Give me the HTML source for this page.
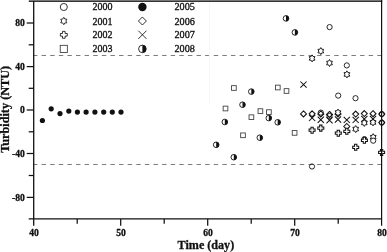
<!DOCTYPE html><html><head><meta charset="utf-8"><title>Turbidity</title><style>html,body{margin:0;padding:0;background:#fff}svg{display:block}text{font-family:"Liberation Serif","Times New Roman",serif;fill:#111;stroke:#111;stroke-width:0.3}</style></head><body>
<svg width="387" height="252" viewBox="0 0 387 252">
<rect width="387" height="252" fill="#fff"/>
<line x1="33" y1="55.50" x2="381.5" y2="55.50" stroke="#7c7c7c" stroke-width="1" stroke-dasharray="4.4 4.2075"/>
<line x1="33" y1="164.50" x2="381.5" y2="164.50" stroke="#7c7c7c" stroke-width="1" stroke-dasharray="4.4 4.2075"/>
<rect x="231.55" y="85.65" width="4.70" height="4.70" fill="#fff" stroke="#444" stroke-width="0.9"/>
<rect x="223.15" y="106.15" width="4.70" height="4.70" fill="#fff" stroke="#444" stroke-width="0.9"/>
<rect x="275.45" y="85.15" width="4.70" height="4.70" fill="#fff" stroke="#444" stroke-width="0.9"/>
<rect x="284.15" y="88.65" width="4.70" height="4.70" fill="#fff" stroke="#444" stroke-width="0.9"/>
<rect x="258.05" y="108.75" width="4.70" height="4.70" fill="#fff" stroke="#444" stroke-width="0.9"/>
<rect x="266.55" y="109.75" width="4.70" height="4.70" fill="#fff" stroke="#444" stroke-width="0.9"/>
<rect x="249.05" y="114.85" width="4.70" height="4.70" fill="#fff" stroke="#444" stroke-width="0.9"/>
<rect x="240.65" y="132.95" width="4.70" height="4.70" fill="#fff" stroke="#444" stroke-width="0.9"/>
<rect x="292.25" y="130.55" width="4.70" height="4.70" fill="#fff" stroke="#444" stroke-width="0.9"/>
<path d="M303.50 110.90L306.50 113.90L303.50 116.90L300.50 113.90Z" fill="none" stroke="#111" stroke-width="1.05"/>
<path d="M312.10 110.80L315.10 113.80L312.10 116.80L309.10 113.80Z" fill="none" stroke="#111" stroke-width="1.05"/>
<path d="M320.80 110.90L323.80 113.90L320.80 116.90L317.80 113.90Z" fill="none" stroke="#111" stroke-width="1.05"/>
<path d="M329.50 111.40L332.50 114.40L329.50 117.40L326.50 114.40Z" fill="none" stroke="#111" stroke-width="1.05"/>
<path d="M338.00 111.00L341.00 114.00L338.00 117.00L335.00 114.00Z" fill="none" stroke="#111" stroke-width="1.05"/>
<path d="M346.80 123.50L349.80 126.50L346.80 129.50L343.80 126.50Z" fill="none" stroke="#111" stroke-width="1.05"/>
<path d="M355.70 111.10L358.70 114.10L355.70 117.10L352.70 114.10Z" fill="none" stroke="#111" stroke-width="1.05"/>
<path d="M364.30 110.60L367.30 113.60L364.30 116.60L361.30 113.60Z" fill="none" stroke="#111" stroke-width="1.05"/>
<path d="M373.00 110.70L376.00 113.70L373.00 116.70L370.00 113.70Z" fill="none" stroke="#111" stroke-width="1.05"/>
<path d="M381.80 111.10L384.80 114.10L381.80 117.10L378.80 114.10Z" fill="none" stroke="#111" stroke-width="1.05"/>
<path d="M381.80 119.60L384.80 122.60L381.80 125.60L378.80 122.60Z" fill="none" stroke="#111" stroke-width="1.05"/>
<path d="M300.40 81.50L306.60 87.70M300.40 87.70L306.60 81.50" fill="none" stroke="#111" stroke-width="1.05"/>
<path d="M309.00 114.80L315.20 121.00M309.00 121.00L315.20 114.80" fill="none" stroke="#111" stroke-width="1.05"/>
<path d="M317.70 116.70L323.90 122.90M317.70 122.90L323.90 116.70" fill="none" stroke="#111" stroke-width="1.05"/>
<path d="M326.40 117.10L332.60 123.30M326.40 123.30L332.60 117.10" fill="none" stroke="#111" stroke-width="1.05"/>
<path d="M334.90 116.40L341.10 122.60M334.90 122.60L341.10 116.40" fill="none" stroke="#111" stroke-width="1.05"/>
<path d="M343.70 116.80L349.90 123.00M343.70 123.00L349.90 116.80" fill="none" stroke="#111" stroke-width="1.05"/>
<path d="M352.60 116.80L358.80 123.00M352.60 123.00L358.80 116.80" fill="none" stroke="#111" stroke-width="1.05"/>
<path d="M361.20 115.90L367.40 122.10M361.20 122.10L367.40 115.90" fill="none" stroke="#111" stroke-width="1.05"/>
<path d="M369.90 115.90L376.10 122.10M369.90 122.10L376.10 115.90" fill="none" stroke="#111" stroke-width="1.05"/>
<circle cx="364.40" cy="139.20" r="2.60" fill="none" stroke="#111" stroke-width="0.9"/>
<path d="M310.96 127.20L313.24 127.20L313.24 129.06L315.10 129.06L315.10 131.34L313.24 131.34L313.24 133.20L310.96 133.20L310.96 131.34L309.10 131.34L309.10 129.06L310.96 129.06Z" fill="#fff" stroke="#111" stroke-width="1.05"/>
<path d="M319.66 125.10L321.94 125.10L321.94 126.96L323.80 126.96L323.80 129.24L321.94 129.24L321.94 131.10L319.66 131.10L319.66 129.24L317.80 129.24L317.80 126.96L319.66 126.96Z" fill="#fff" stroke="#111" stroke-width="1.05"/>
<path d="M337.16 130.20L339.44 130.20L339.44 132.06L341.30 132.06L341.30 134.34L339.44 134.34L339.44 136.20L337.16 136.20L337.16 134.34L335.30 134.34L335.30 132.06L337.16 132.06Z" fill="#fff" stroke="#111" stroke-width="1.05"/>
<path d="M345.66 128.30L347.94 128.30L347.94 130.16L349.80 130.16L349.80 132.44L347.94 132.44L347.94 134.30L345.66 134.30L345.66 132.44L343.80 132.44L343.80 130.16L345.66 130.16Z" fill="#fff" stroke="#111" stroke-width="1.05"/>
<path d="M354.56 144.30L356.84 144.30L356.84 146.16L358.70 146.16L358.70 148.44L356.84 148.44L356.84 150.30L354.56 150.30L354.56 148.44L352.70 148.44L352.70 146.16L354.56 146.16Z" fill="#fff" stroke="#111" stroke-width="1.05"/>
<path d="M363.26 137.30L365.54 137.30L365.54 139.16L367.40 139.16L367.40 141.44L365.54 141.44L365.54 143.30L363.26 143.30L363.26 141.44L361.40 141.44L361.40 139.16L363.26 139.16Z" fill="#fff" stroke="#111" stroke-width="1.05"/>
<path d="M380.46 149.40L382.74 149.40L382.74 151.26L384.60 151.26L384.60 153.54L382.74 153.54L382.74 155.40L380.46 155.40L380.46 153.54L378.60 153.54L378.60 151.26L380.46 151.26Z" fill="#fff" stroke="#111" stroke-width="1.05"/>
<path d="M320.80 47.60L321.80 49.28L323.68 49.35L322.80 51.10L323.68 52.85L321.80 52.92L320.80 54.60L319.80 52.92L317.92 52.85L318.81 51.10L317.92 49.35L319.80 49.28Z" fill="#fff" stroke="#111" stroke-width="0.95"/>
<path d="M312.10 54.90L313.10 56.58L314.98 56.65L314.10 58.40L314.98 60.15L313.10 60.22L312.10 61.90L311.10 60.22L309.22 60.15L310.11 58.40L309.22 56.65L311.10 56.58Z" fill="#fff" stroke="#111" stroke-width="0.95"/>
<path d="M329.50 59.50L330.50 61.18L332.38 61.25L331.50 63.00L332.38 64.75L330.50 64.82L329.50 66.50L328.50 64.82L326.62 64.75L327.50 63.00L326.62 61.25L328.50 61.18Z" fill="#fff" stroke="#111" stroke-width="0.95"/>
<path d="M346.90 70.90L347.90 72.58L349.78 72.65L348.89 74.40L349.78 76.15L347.90 76.22L346.90 77.90L345.90 76.22L344.02 76.15L344.90 74.40L344.02 72.65L345.90 72.58Z" fill="#fff" stroke="#111" stroke-width="0.95"/>
<path d="M338.00 109.10L339.00 110.78L340.88 110.85L340.00 112.60L340.88 114.35L339.00 114.42L338.00 116.10L337.00 114.42L335.12 114.35L336.00 112.60L335.12 110.85L337.00 110.78Z" fill="#fff" stroke="#111" stroke-width="0.95"/>
<path d="M355.70 125.60L356.70 127.28L358.58 127.35L357.69 129.10L358.58 130.85L356.70 130.92L355.70 132.60L354.70 130.92L352.82 130.85L353.70 129.10L352.82 127.35L354.70 127.28Z" fill="#fff" stroke="#111" stroke-width="0.95"/>
<path d="M364.30 119.40L365.30 121.08L367.18 121.15L366.30 122.90L367.18 124.65L365.30 124.72L364.30 126.40L363.30 124.72L361.42 124.65L362.31 122.90L361.42 121.15L363.30 121.08Z" fill="#fff" stroke="#111" stroke-width="0.95"/>
<path d="M373.00 118.90L374.00 120.58L375.88 120.65L375.00 122.40L375.88 124.15L374.00 124.22L373.00 125.90L372.00 124.22L370.12 124.15L371.00 122.40L370.12 120.65L372.00 120.58Z" fill="#fff" stroke="#111" stroke-width="0.95"/>
<path d="M373.20 133.70L374.20 135.38L376.08 135.45L375.19 137.20L376.08 138.95L374.20 139.02L373.20 140.70L372.20 139.02L370.32 138.95L371.20 137.20L370.32 135.45L372.20 135.38Z" fill="#fff" stroke="#111" stroke-width="0.95"/>
<circle cx="329.60" cy="27.10" r="2.60" fill="none" stroke="#111" stroke-width="0.9"/>
<circle cx="346.80" cy="65.40" r="2.60" fill="none" stroke="#111" stroke-width="0.9"/>
<circle cx="338.20" cy="95.60" r="2.60" fill="none" stroke="#111" stroke-width="0.9"/>
<circle cx="355.50" cy="98.20" r="2.60" fill="none" stroke="#111" stroke-width="0.9"/>
<circle cx="312.00" cy="166.50" r="2.60" fill="none" stroke="#111" stroke-width="0.9"/>
<circle cx="320.80" cy="112.60" r="2.60" fill="none" stroke="#111" stroke-width="0.9"/>
<circle cx="329.50" cy="116.00" r="2.60" fill="none" stroke="#111" stroke-width="0.9"/>
<circle cx="381.80" cy="114.10" r="2.60" fill="none" stroke="#111" stroke-width="0.9"/>
<circle cx="381.80" cy="122.60" r="2.60" fill="none" stroke="#111" stroke-width="0.9"/>
<circle cx="373.20" cy="140.70" r="2.60" fill="#fff" stroke="#111" stroke-width="0.9"/>
<circle cx="286.00" cy="18.40" r="2.80" fill="#fff" stroke="#111" stroke-width="0.9"/><path d="M286.00 15.60A2.80 2.80 0 0 1 286.00 21.20Z" fill="#111"/>
<circle cx="294.90" cy="32.40" r="2.80" fill="#fff" stroke="#111" stroke-width="0.9"/><path d="M294.90 29.60A2.80 2.80 0 0 1 294.90 35.20Z" fill="#111"/>
<circle cx="251.30" cy="91.60" r="2.80" fill="#fff" stroke="#111" stroke-width="0.9"/><path d="M251.30 88.80A2.80 2.80 0 0 1 251.30 94.40Z" fill="#111"/>
<circle cx="242.50" cy="104.70" r="2.80" fill="#fff" stroke="#111" stroke-width="0.9"/><path d="M242.50 101.90A2.80 2.80 0 0 1 242.50 107.50Z" fill="#111"/>
<circle cx="224.80" cy="122.00" r="2.80" fill="#fff" stroke="#111" stroke-width="0.9"/><path d="M224.80 119.20A2.80 2.80 0 0 1 224.80 124.80Z" fill="#111"/>
<circle cx="268.80" cy="118.10" r="2.80" fill="#fff" stroke="#111" stroke-width="0.9"/><path d="M268.80 115.30A2.80 2.80 0 0 1 268.80 120.90Z" fill="#111"/>
<circle cx="277.70" cy="122.30" r="2.80" fill="#fff" stroke="#111" stroke-width="0.9"/><path d="M277.70 119.50A2.80 2.80 0 0 1 277.70 125.10Z" fill="#111"/>
<circle cx="259.80" cy="137.70" r="2.80" fill="#fff" stroke="#111" stroke-width="0.9"/><path d="M259.80 134.90A2.80 2.80 0 0 1 259.80 140.50Z" fill="#111"/>
<circle cx="216.20" cy="144.80" r="2.80" fill="#fff" stroke="#111" stroke-width="0.9"/><path d="M216.20 142.00A2.80 2.80 0 0 1 216.20 147.60Z" fill="#111"/>
<circle cx="233.80" cy="157.20" r="2.80" fill="#fff" stroke="#111" stroke-width="0.9"/><path d="M233.80 154.40A2.80 2.80 0 0 1 233.80 160.00Z" fill="#111"/>
<circle cx="42.40" cy="120.50" r="2.60" fill="#111"/>
<circle cx="51.20" cy="108.80" r="2.60" fill="#111"/>
<circle cx="60.00" cy="113.60" r="2.60" fill="#111"/>
<circle cx="68.80" cy="111.10" r="2.60" fill="#111"/>
<circle cx="77.40" cy="112.10" r="2.60" fill="#111"/>
<circle cx="86.10" cy="112.10" r="2.60" fill="#111"/>
<circle cx="94.90" cy="112.10" r="2.60" fill="#111"/>
<circle cx="103.70" cy="112.10" r="2.60" fill="#111"/>
<circle cx="112.30" cy="112.10" r="2.60" fill="#111"/>
<circle cx="121.00" cy="112.10" r="2.60" fill="#111"/>
<line x1="209.4" y1="1.5" x2="209.4" y2="105" stroke="#f8f8f8" stroke-width="1"/>
<line x1="33.7" y1="0" x2="33.7" y2="225.7" stroke="#111" stroke-width="1.3"/>
<line x1="28.7" y1="218.9" x2="382" y2="218.9" stroke="#111" stroke-width="1.4"/>
<rect x="28.8" y="0" width="353.4" height="1.1" fill="#777"/>
<rect x="28.8" y="1" width="353.4" height="0.85" fill="#151515"/>
<line x1="381.6" y1="0" x2="381.6" y2="225.7" stroke="#111" stroke-width="1.2"/>
<line x1="26.7" y1="23.00" x2="33.7" y2="23.00" stroke="#111" stroke-width="1.25"/>
<text x="24.9" y="26.30" font-size="9.6" font-weight="bold" text-anchor="end">80</text>
<line x1="26.7" y1="66.60" x2="33.7" y2="66.60" stroke="#111" stroke-width="1.25"/>
<text x="24.9" y="69.90" font-size="9.6" font-weight="bold" text-anchor="end">40</text>
<line x1="26.7" y1="110.00" x2="33.7" y2="110.00" stroke="#111" stroke-width="1.25"/>
<text x="24.9" y="113.30" font-size="9.6" font-weight="bold" text-anchor="end">0</text>
<line x1="26.7" y1="153.50" x2="33.7" y2="153.50" stroke="#111" stroke-width="1.25"/>
<text x="24.9" y="156.80" font-size="9.6" font-weight="bold" text-anchor="end">-40</text>
<line x1="26.7" y1="197.40" x2="33.7" y2="197.40" stroke="#111" stroke-width="1.25"/>
<text x="24.9" y="200.70" font-size="9.6" font-weight="bold" text-anchor="end">-80</text>
<line x1="28.7" y1="44.80" x2="33.7" y2="44.80" stroke="#111" stroke-width="1.25"/>
<line x1="28.7" y1="88.30" x2="33.7" y2="88.30" stroke="#111" stroke-width="1.25"/>
<line x1="28.7" y1="131.80" x2="33.7" y2="131.80" stroke="#111" stroke-width="1.25"/>
<line x1="28.7" y1="175.50" x2="33.7" y2="175.50" stroke="#111" stroke-width="1.25"/>
<line x1="120.70" y1="218.9" x2="120.70" y2="225.7" stroke="#111" stroke-width="1.25"/>
<line x1="207.70" y1="218.9" x2="207.70" y2="225.7" stroke="#111" stroke-width="1.25"/>
<line x1="294.70" y1="218.9" x2="294.70" y2="225.7" stroke="#111" stroke-width="1.25"/>
<line x1="77.20" y1="218.9" x2="77.20" y2="223.8" stroke="#111" stroke-width="1.25"/>
<line x1="164.20" y1="218.9" x2="164.20" y2="223.8" stroke="#111" stroke-width="1.25"/>
<line x1="251.20" y1="218.9" x2="251.20" y2="223.8" stroke="#111" stroke-width="1.25"/>
<line x1="338.20" y1="218.9" x2="338.20" y2="223.8" stroke="#111" stroke-width="1.25"/>
<text x="34.10" y="236.4" font-size="9.6" font-weight="bold" text-anchor="middle">40</text>
<text x="121.10" y="236.4" font-size="9.6" font-weight="bold" text-anchor="middle">50</text>
<text x="208.10" y="236.4" font-size="9.6" font-weight="bold" text-anchor="middle">60</text>
<text x="295.10" y="236.4" font-size="9.6" font-weight="bold" text-anchor="middle">70</text>
<text x="382.10" y="236.4" font-size="9.6" font-weight="bold" text-anchor="middle">80</text>
<text x="205.9" y="248.6" font-size="12.1" font-weight="bold" text-anchor="middle">Time (day)</text>
<text transform="translate(9 109.35) rotate(-90)" font-size="12.25" font-weight="bold" text-anchor="middle">Turbidity (NTU)</text>
<circle cx="63.80" cy="7.00" r="3.55" fill="#fff" stroke="#111" stroke-width="0.85"/>
<path d="M63.80 17.30L64.85 19.08L66.84 19.15L65.91 21.00L66.84 22.85L64.85 22.92L63.80 24.70L62.75 22.92L60.76 22.85L61.69 21.00L60.76 19.15L62.75 19.08Z" fill="#fff" stroke="#111" stroke-width="0.85"/>
<path d="M62.49 31.35L65.11 31.35L65.11 33.49L67.25 33.49L67.25 36.11L65.11 36.11L65.11 38.25L62.49 38.25L62.49 36.11L60.35 36.11L60.35 33.49L62.49 33.49Z" fill="#fff" stroke="#111" stroke-width="0.85"/>
<rect x="60.25" y="45.35" width="7.10" height="7.10" fill="#fff" stroke="#444" stroke-width="0.9"/>
<circle cx="142.40" cy="7.00" r="4.20" fill="#111"/>
<path d="M142.40 17.00L146.40 21.00L142.40 25.00L138.40 21.00Z" fill="none" stroke="#111" stroke-width="0.85"/>
<path d="M138.30 30.70L146.50 38.90M138.30 38.90L146.50 30.70" fill="none" stroke="#111" stroke-width="0.85"/>
<circle cx="142.40" cy="48.90" r="3.80" fill="#fff" stroke="#111" stroke-width="0.85"/><path d="M142.40 45.10A3.80 3.80 0 0 1 142.40 52.70Z" fill="#111"/>
<text x="92.5" y="10.4" font-size="10">2000</text>
<text x="92.5" y="24.5" font-size="10">2001</text>
<text x="92.5" y="38.4" font-size="10">2002</text>
<text x="92.5" y="52.3" font-size="10">2003</text>
<text x="174.5" y="10.4" font-size="10" textLength="20.4" lengthAdjust="spacingAndGlyphs">2005</text>
<text x="174.5" y="24.5" font-size="10" textLength="20.4" lengthAdjust="spacingAndGlyphs">2006</text>
<text x="174.5" y="38.4" font-size="10" textLength="20.4" lengthAdjust="spacingAndGlyphs">2007</text>
<text x="174.5" y="52.3" font-size="10" textLength="20.4" lengthAdjust="spacingAndGlyphs">2008</text>
</svg></body></html>
